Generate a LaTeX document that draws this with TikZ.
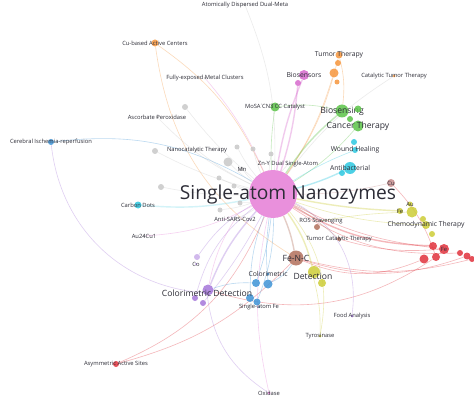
\documentclass[tikz,border=0pt]{standalone}
\usepackage{fontspec}
\setmainfont{Open Sans}
\usetikzlibrary{backgrounds}
\definecolor{hubpink}{RGB}{230,125,215}
\definecolor{korange}{RGB}{246,150,60}
\definecolor{kgreen}{RGB}{92,196,72}
\definecolor{kcyan}{RGB}{45,200,225}
\definecolor{kyellow}{RGB}{205,205,55}
\definecolor{kred}{RGB}{225,50,60}
\definecolor{kbrown}{RGB}{178,112,92}
\definecolor{kcu}{RGB}{200,140,140}
\definecolor{kblue}{RGB}{62,148,215}
\definecolor{kpurple}{RGB}{165,118,218}
\definecolor{kgray}{RGB}{200,200,200}
\definecolor{kmagenta}{RGB}{215,105,205}
\definecolor{ktext}{RGB}{45,45,55}
\tikzset{
  kw/.style={circle, inner sep=0pt, minimum size=#1, fill opacity=0.85},
  kw/.default=5pt,
  lbl/.style={opacity=1, text=ktext, inner sep=0pt, font=\fontsize{5.8}{6}\selectfont},
  lbls/.style={opacity=1, text=ktext, inner sep=0pt, font=\fontsize{6.8}{7}\selectfont},
  lblm/.style={opacity=1, text=ktext, inner sep=0pt, font=\fontsize{8.6}{9}\selectfont},
  link/.style={line width=0.6pt, draw opacity=0.35},
  wlink/.style={line width=1.4pt, draw opacity=0.35},
}

\begin{document}
\begin{tikzpicture}[x=1pt, y=-1pt]
\useasboundingbox (0,0) rectangle (474,401);

% hub
\node[kw=48pt, fill=hubpink] (hub) at (273,194) {};

% grey cluster
\node[kw=3pt, fill=kgray, label={[lbl]center:Atomically Dispersed Dual-Meta}] (atom) at (245,5) {};
\node[kw=3pt, fill=kgray, label={[lbl]center:Fully-exposed Metal Clusters}] (fully) at (205,78) {};
\node[kw=3pt, fill=kgray, label={[lbl]center:Ascorbate Peroxidase}] (ascorb) at (157,117) {};
\node[kw=3pt, fill=kgray, label={[lbl]center:Nanocatalytic Therapy}] (nano) at (197,150) {};
\node[kw=4pt, fill=kgray, label={[lbl]center:Mn}] (mn) at (242,169) {};
\node[kw=3pt, fill=kgray, label={[lbl]center:Zn-Y Dual Single-Atom}] (zny) at (288,164) {};
\node[kw=3pt, fill=kgray, label={[lbl]center:Anti-SARS-Cov2}] (sars) at (235,219) {};
\node[kw=3pt, fill=kgray, label={[lbl]center:Au24Cu1}] (au24) at (144,236) {};
\node[kw=6pt, fill=kgray] (g1) at (155,151) {};
\node[kw=6pt, fill=kgray] (g2) at (185,107) {};
\node[kw=9pt, fill=kgray] (g3) at (228,162) {};
\node[kw=5pt, fill=kgray] (g4) at (237,147) {};
\node[kw=5pt, fill=kgray] (g5) at (253,149) {};
\node[kw=5pt, fill=kgray] (g6) at (271,154) {};
\node[kw=5pt, fill=kgray] (g7) at (219,178) {};
\node[kw=6pt, fill=kgray] (g8) at (161,187) {};
\node[kw=5pt, fill=kgray] (g9) at (220,210) {};
\node[kw=5pt, fill=kgray] (g10) at (240,203) {};
\node[kw=5pt, fill=kgray] (g11) at (234,186) {};

% orange cluster
\node[kw=7pt, fill=korange, label={[lbl]center:Cu-based Active Centers}] (cuact) at (155,43) {};
\node[kw=7pt, fill=korange, label={[lbls]center:Tumor Therapy}] (tumor) at (339,55) {};
\node[kw=6pt, fill=korange] (o1) at (338,63) {};
\node[kw=9pt, fill=korange] (o2) at (334,73) {};
\node[kw=5pt, fill=korange] (o3) at (337,82) {};
\node[kw=3pt, fill=korange, label={[lbl]center:Catalytic Tumor Therapy}] (cattumor) at (394,76) {};

% magenta cluster
\node[kw=10pt, fill=kmagenta, label={[lbls]center:Biosensors}] (bios) at (304,75) {};
\node[kw=6pt, fill=kmagenta] (m1) at (298,83) {};

% green cluster
\node[kw=9pt, fill=kgreen, label={[lbl]center:MoSA˙CN3˙CC Catalyst}] (mosa) at (275,107) {};
\node[kw=13pt, fill=kgreen, label={[lblm]center:Biosensing}] (biosensing) at (342,111) {};
\node[kw=7pt, fill=kgreen] (gr1) at (358,109) {};
\node[kw=6pt, fill=kgreen] (gr2) at (350,119) {};
\node[kw=11pt, fill=kgreen, label={[lblm]center:Cancer Therapy}] (cancer) at (358,126) {};

% cyan cluster
\node[kw=6pt, fill=kcyan] (c1) at (354,142) {};
\node[kw=6pt, fill=kcyan, label={[lbls]center:Wound Healing}] (wound) at (355,150) {};
\node[kw=12pt, fill=kcyan, label={[lbls]center:Antibacterial}] (antibac) at (350,168) {};
\node[kw=6pt, fill=kcyan] (c2) at (342,173) {};
\node[kw=7pt, fill=kcyan, label={[lbl]center:Carbon Dots}] (carbon) at (138,205) {};
\node[kw=6pt, fill=kblue, label={[lbl]center:Cerebral Ischemia-reperfusion}] (cerebral) at (51,142) {};

% yellow cluster
\node[kw=8pt, fill=kcu, label={[lbl]center:Cu}] (cu) at (391,183) {};
\node[kw=5pt, fill=kyellow, label={[lbl]center:Au}] (au) at (410,204) {};
\node[kw=11pt, fill=kyellow] (y1) at (412,212) {};
\node[kw=6pt, fill=kyellow, label={[lbl]center:Fe}] (fe1) at (400,211) {};
\node[kw=6pt, fill=kyellow] (y2) at (423,219) {};
\node[kw=8pt, fill=kyellow, label={[lbls]center:Chemodynamic Therapy}] (chemo) at (426,225) {};
\node[kw=6pt, fill=kyellow] (y3) at (432,234) {};

% red cluster
\node[kw=8pt, fill=kred] (r1) at (433,246) {};
\node[kw=10pt, fill=kred, label={[lbl]center:Fe}] (fe2) at (444,249) {};
\node[kw=9pt, fill=kred] (r2) at (424,259) {};
\node[kw=8pt, fill=kred] (r3) at (436,257) {};
\node[kw=6pt, fill=kred] (r4) at (460,253) {};
\node[kw=7pt, fill=kred] (r5) at (467,256) {};
\node[kw=6pt, fill=kred] (r6) at (472,259) {};
\node[kw=6pt, fill=kred, label={[lbl]center:Asymmetric Active Sites}] (asym) at (116,364) {};

% brown cluster
\node[kw=6pt, fill=kbrown] (b1) at (317,227) {};
\node[kw=2pt, fill=kbrown, label={[lbl]center:ROS Scavenging}] (ros) at (321,221) {};
\node[kw=4pt, fill=kbrown, label={[lbl]center:Tumor Catalytic Therapy}] (tct) at (339,239) {};
\node[kw=15pt, fill=kbrown, label={[lblm]center:Fe-N-C}] (fenc) at (296,258) {};

% detection / colorimetric
\node[kw=12pt, fill=kyellow] (d1) at (314,272) {};
\node[kw=8pt, fill=kyellow] (d2) at (322,283) {};
\node[kw=2pt, fill=kyellow, label={[lblm]center:Detection}] (detect) at (313,276) {};
\node[kw=8pt, fill=kblue] (bl1) at (256,283) {};
\node[kw=9pt, fill=kblue] (bl2) at (268,284) {};
\node[kw=3pt, fill=kblue, label={[lbls]center:Colorimetric}] (color) at (268,274) {};
\node[kw=8pt, fill=kblue] (bl3) at (250,298) {};
\node[kw=7pt, fill=kblue] (bl4) at (257,302) {};
\node[kw=2pt, fill=kblue, label={[lbl]center:Single-atom Fe}] (safe) at (259,307) {};
\node[kw=11pt, fill=kpurple] (p1) at (208,290) {};
\node[kw=6pt, fill=kpurple] (p2) at (195,298) {};
\node[kw=6pt, fill=kpurple] (p3) at (203,303) {};
\node[kw=2pt, fill=kpurple, label={[lblm]center:Colorimetric Detection}] (colordet) at (207,293) {};
\node[kw=6pt, fill=kpurple!60] (p4) at (197,257) {};
\node[kw=2pt, fill=kpurple, label={[lbl]center:Co}] (co) at (196,264) {};

% lone keywords
\node[kw=3pt, fill=kpurple, label={[lbl]center:Food Analysis}] (food) at (352,316) {};
\node[kw=3pt, fill=kyellow, label={[lbl]center:Tyrosinase}] (tyro) at (320,336) {};
\node[kw=3pt, fill=hubpink, label={[lbl]center:Oxidase}] (oxidase) at (269,393) {};

\node[font=\fontsize{19.2}{20}\selectfont, text=ktext, inner sep=0pt] (hubname) at (288,195) {Single-atom Nanozymes};

\begin{scope}[on background layer]
\fill[white] (0,0) rectangle (474,401);
% long links
\draw[link, kgray] (hub) to[bend right=12] (atom);
\draw[link, korange] (hub) to[bend right=15] (cuact);
\draw[link, korange] (cuact) to[bend right=25] (fenc);
\draw[link, hubpink] (hub) to[bend right=8] (fully);
\draw[link, kgray] (hub) to[bend left=10] (ascorb);
\draw[link, kblue] (hub) to[bend right=18] (cerebral);
\draw[link, kpurple] (colordet) to[bend left=40] (cerebral);
\draw[wlink, kcyan!60] (hub) to[bend left=8] (carbon);
\draw[link, hubpink] (hub) to[bend left=12] (au24);
\draw[link, kred] (hub) to[bend left=22] (asym);
\draw[link, kred] (fenc) to[bend left=15] (asym);
\draw[link, hubpink] (hub) to[bend right=12] (oxidase);
\draw[link, kpurple] (colordet) to[bend right=25] (oxidase);
\draw[link, kpurple] (hub) to[bend left=35] (food);
\draw[link, kyellow] (hub) to[bend left=25] (tyro);
\draw[link, kyellow] (detect) to[bend left=8] (tyro);
% grey links
\foreach \g in {nano,mn,zny,sars,g1,g2,g3,g4,g5,g6,g7,g8,g9,g10,g11}
  \draw[link, kgray] (hub) to[bend left=6] (\g);
% upper links
\draw[link, korange] (hub) to[bend right=10] (tumor);
\draw[link, korange] (hub) to[bend right=8] (o2);
\draw[link, korange] (tumor) to[bend left=10] (biosensing);
\draw[link, kgray] (hub) to[bend left=10] (cattumor);
\draw[wlink, kmagenta] (hub) to[bend left=6] (bios);
\draw[wlink, kmagenta] (hub) to[bend right=6] (m1);
\draw[link, kgreen] (hub) to[bend left=5] (mosa);
\draw[wlink, kgreen] (hub) to[bend left=8] (biosensing);
\draw[link, kgreen] (hub) to[bend right=8] (cancer);
\draw[link, kgreen] (mosa) to[bend left=10] (biosensing);
\draw[link, kcyan] (hub) to[bend left=5] (wound);
\draw[wlink, kcyan] (hub) to[bend right=5] (antibac);
% right links
\draw[link, kcu] (hub) to[bend right=6] (cu);
\draw[wlink, kyellow] (hub) to[bend right=4] (fe1);
\draw[link, kyellow] (hub) to[bend right=8] (chemo);
\draw[link, kyellow] (ros) to[bend left=4] (y1);
\draw[wlink, kred] (hub) to[bend right=14] (r1);
\draw[link, kred] (hub) to[bend right=10] (fe2);
\draw[link, kred] (hub) to[bend right=18] (r4);
\draw[link, kred] (fenc) to[bend right=22] (r2);
\draw[link, kred] (fenc) to[bend right=18] (r5);
\draw[link, kred] (fenc) to[bend right=14] (r6);
\draw[link, kred] (cu) to[bend left=12] (r3);
\draw[link, kred] (tct) to[bend right=10] (fe2);
\draw[link, kred] (p1) to[bend right=25] (r3);
\draw[link, kbrown] (hub) to[bend left=5] (ros);
\draw[link, kbrown] (hub) to[bend left=5] (tct);
% lower links
\draw[wlink, kbrown] (hub) to[bend left=6] (fenc);
\draw[wlink, kyellow] (hub) to[bend left=10] (d1);
\draw[link, kblue] (hub) to[bend left=6] (bl1);
\draw[link, kblue] (hub) to[bend right=6] (bl2);
\draw[link, kblue] (hub) to[bend right=10] (bl3);
\draw[link, kblue] (hub) to[bend left=10] (bl4);
\draw[link, kblue] (fenc) to[bend left=15] (bl2);
\draw[wlink, kpurple] (hub) to[bend right=10] (p1);
\draw[link, kpurple] (hub) to[bend right=18] (p2);
\draw[link, kpurple] (hub) to[bend left=5] (p3);
\draw[link, kpurple] (hub) to[bend right=12] (p4);
\draw[link, hubpink] (sars) to[bend right=10] (p1);
\draw[link, kblue] (p1) to[bend left=10] (bl1);
\end{scope}
\end{tikzpicture}
\end{document}
